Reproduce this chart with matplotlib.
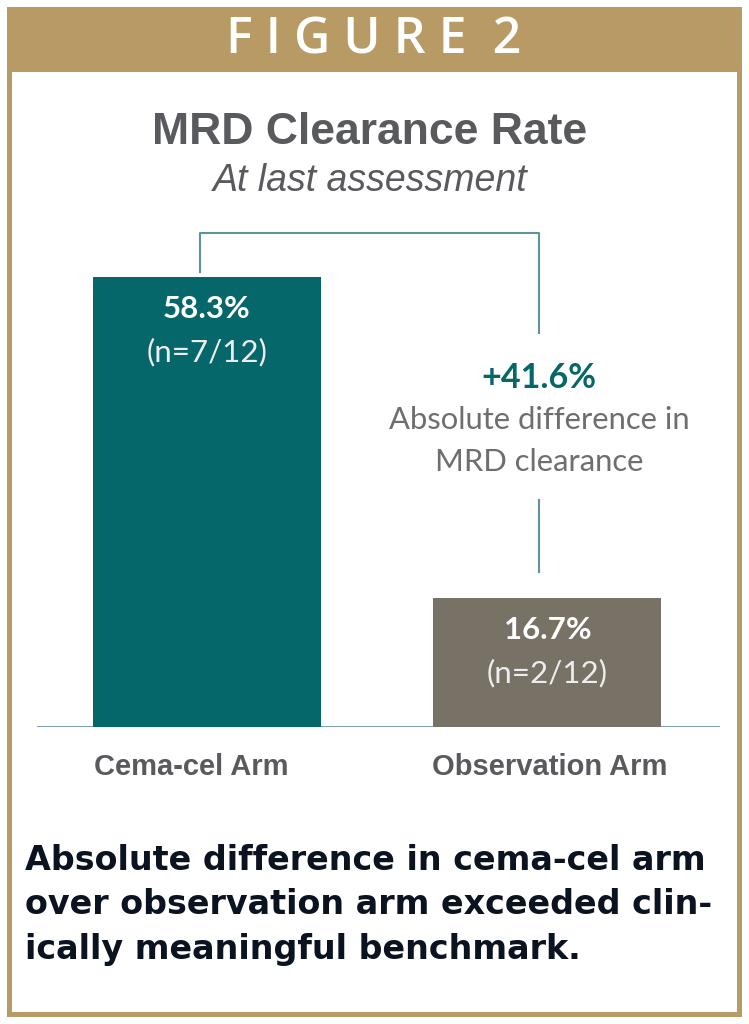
import matplotlib
matplotlib.use("Agg")
import matplotlib.pyplot as plt
from matplotlib.patches import Rectangle

# ---- data ----
categories = ["Cema-cel Arm", "Observation Arm"]
values = [58.3, 16.7]
n_labels = ["(n=7/12)", "(n=2/12)"]
diff_label = "+41.6%"
diff_text = ["Absolute difference in", "MRD clearance"]
title = "MRD Clearance Rate"
subtitle = "At last assessment"
header = "F I G U R E  2"
caption = ["Absolute difference in cema-cel arm",
           "over observation arm exceeded clin-",
           "ically meaningful benchmark."]

GOLD = "#B89A64"
TEAL = "#05676A"
GREYBAR = "#777166"
TXT = "#585A5E"
LINE = "#5E9499"

W, H = 749, 1024
fig = plt.figure(figsize=(W / 100, H / 100), dpi=100)
fig.patch.set_facecolor("white")

def px(x, y):
    return x / W, 1 - y / H

# frame
fig.patches.append(Rectangle(px(7, 1017), 735 / W, 1010 / H, transform=fig.transFigure,
                             facecolor=GOLD, edgecolor="none", zorder=-20))
fig.patches.append(Rectangle(px(12, 1012), 725 / W, 940 / H, transform=fig.transFigure,
                             facecolor="white", edgecolor="none", zorder=-10))

# header
fig.text(*px(374, 41), header, ha="center", va="center", color="white", fontsize=36,
         family=["Open Sans", "DejaVu Sans"], fontweight="semibold")

# titles
fig.text(*px(370, 132), title, ha="center", va="center", color=TXT, fontsize=32,
         family="Liberation Sans", fontweight="bold")
fig.text(*px(370, 181), subtitle, ha="center", va="center", color=TXT, fontsize=27,
         family="Liberation Sans", style="italic")

# bar axes
ax = fig.add_axes([37 / W, 1 - 727 / H, (720 - 37) / W, 65 * 7.72 / H])
ax.set_xlim(-0.499, 1.507)
ax.set_ylim(0, 65)
ax.axis("off")
x = [0, 1]
ax.bar(x, values, width=0.67, color=[TEAL, GREYBAR], zorder=2)
ax.axhline(0, color="#6C95A0", lw=2, zorder=1)

cal = ["Lato", "DejaVu Sans"]
label_shift = [-0.047, 0.008]
for xi, v, nl in zip(x, values, n_labels):
    ax.text(xi, v - 4.1, f"{v:.1f}%", ha="center", va="center", color="white",
            fontsize=22.5, family=cal, fontweight="bold", zorder=3)
    ax.text(xi, v - 9.7, nl, ha="center", va="center", color="#EDEDED",
            fontsize=22.5, family=cal, zorder=3)
    ax.text(xi + label_shift[xi], -5.2, categories[xi], ha="center", va="center", color=TXT,
            fontsize=21, family="Liberation Sans", fontweight="bold", clip_on=False)

# bracket
bx0 = x[0] - 0.02
bx1 = x[1] - 0.025
top = values[0] + 5.7
ax.plot([bx0, bx0, bx1, bx1], [values[0] + 0.6, top, top, 51.0], color=LINE, lw=1.5,
        clip_on=False, zorder=1)
ax.plot([bx1, bx1], [values[1] + 12.7, values[1] + 3.4], color=LINE, lw=1.5, zorder=1)

ax.text(bx1, 45.2, diff_label, ha="center", va="center", color=TEAL, fontsize=24.5,
        family=cal, fontweight="bold")
ax.text(bx1, 39.8, diff_text[0], ha="center", va="center", color="#6E6E6E", fontsize=22.3,
        family=cal)
ax.text(bx1, 34.3, diff_text[1], ha="center", va="center", color="#6E6E6E", fontsize=22.3,
        family=cal)

# caption
for i, line in enumerate(caption):
    fig.text(*px(25, 860 + 45 * i), line, ha="left", va="center", color="#0B1220",
             fontsize=24, family="DejaVu Sans", fontweight="bold")

fig.savefig("out.png", dpi=100, facecolor="white")
